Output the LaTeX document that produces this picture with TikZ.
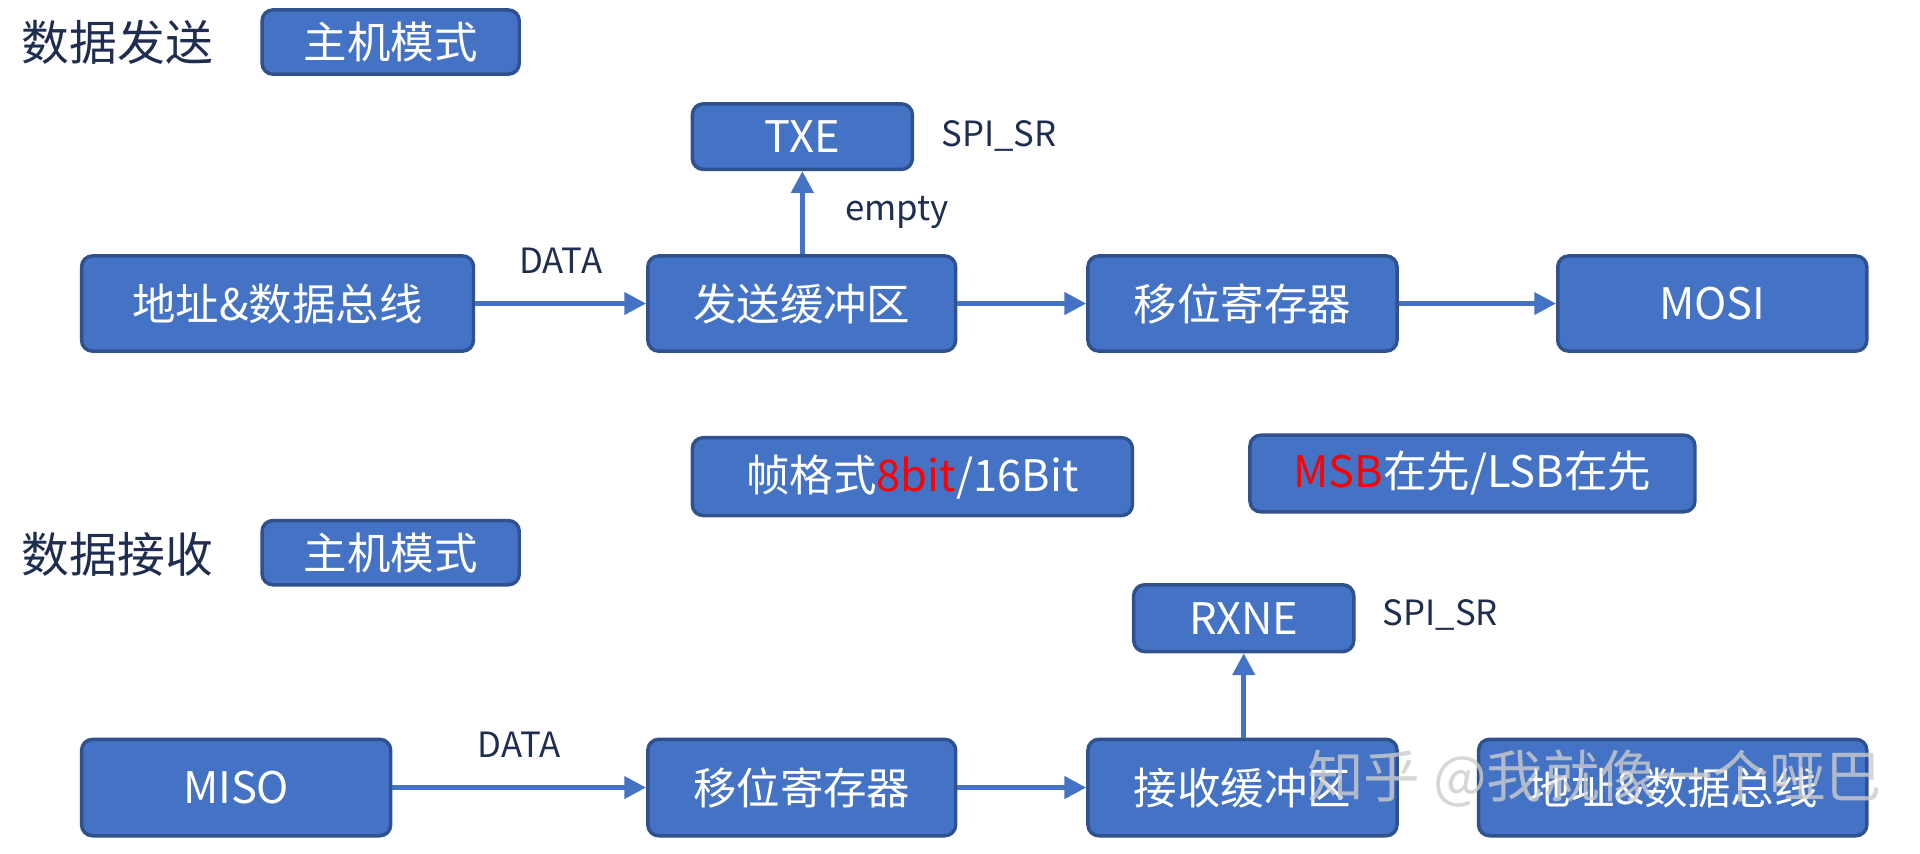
\documentclass[tikz,border=0pt]{standalone}
\usepackage{fontspec}
\setmainfont{Noto Sans CJK SC}
\usetikzlibrary{arrows.meta}
\definecolor{bfill}{HTML}{4472C4}
\definecolor{bdraw}{HTML}{2F528F}
\definecolor{navy}{HTML}{1F2D50}
\tikzset{
 box/.style={draw=bdraw,fill=bfill,line width=0.8pt,rounded corners=2.5pt,text=white,font=\fontsize{10}{12}\selectfont,inner sep=0pt},
 arr/.style={draw=bfill,line width=1.1pt,-{Triangle[length=5pt,width=5pt]}},
 lbl/.style={text=navy,font=\fontsize{8}{10}\selectfont},
 ttl/.style={text=navy,font=\fontsize{11}{13}\selectfont}
}
\newcommand{\bx}[6]{\node[box,minimum width=#4*0.01cm-#2*0.01cm,minimum height=#5*0.01cm-#3*0.01cm] (#1) at ({(#2+#4)/2},{(#3+#5)/2}) {#6};}
\begin{document}
\begin{tikzpicture}[x=0.01cm,y=-0.01cm]
\useasboundingbox (0,0) rectangle (1553,690);
\node[ttl] (t1) at (95,34) {数据发送};
\bx{m1}{212}{8}{420}{60}{主机模式}
\bx{txe}{560}{84}{738}{137}{TXE}
\node[lbl] (s1) at (808,110) {SPI\_SR};
\bx{a1}{66}{207}{383}{284}{地址\&数据总线}
\bx{b1}{524}{207}{773}{284}{发送缓冲区}
\bx{c1}{880}{207}{1130}{284}{移位寄存器}
\bx{d1}{1260}{207}{1510}{284}{MOSI}
\draw[arr] (a1) -- node[lbl,above=3pt] (dt1) {DATA} (b1);
\draw[arr] (b1) -- (c1);
\draw[arr] (c1) -- (d1);
\draw[arr] (b1.north -| txe) -- node[lbl,right=6pt] (em) {empty} (txe.south);
\bx{f1}{560}{354}{916}{417}{帧格式\textcolor{red}{8bit}/16Bit}
\bx{f2}{1011}{352}{1371}{414}{\textcolor{red}{MSB}在先/LSB在先}
\node[ttl] (t2) at (95,448) {数据接收};
\bx{m2}{212}{421}{420}{473}{主机模式}
\bx{rx}{917}{473}{1095}{527}{RXNE}
\node[lbl] (s2) at (1165,497) {SPI\_SR};
\bx{a2}{66}{598}{316}{676}{MISO}
\bx{b2}{524}{598}{773}{676}{移位寄存器}
\bx{c2}{880}{598}{1130}{676}{接收缓冲区}
\bx{d2}{1196}{598}{1510}{676}{地址\&数据总线}
\draw[arr] (a2) -- node[lbl,above=3pt] (dt2) {DATA} (b2);
\draw[arr] (b2) -- (c2);
\draw[arr] (c2.north -| rx) -- (rx.south);
\node[text=gray!40,opacity=0.8,font=\fontsize{13}{15}\selectfont] (wm) at (1290,630) {知乎 @我就像一个哑巴};
\end{tikzpicture}
\end{document}
